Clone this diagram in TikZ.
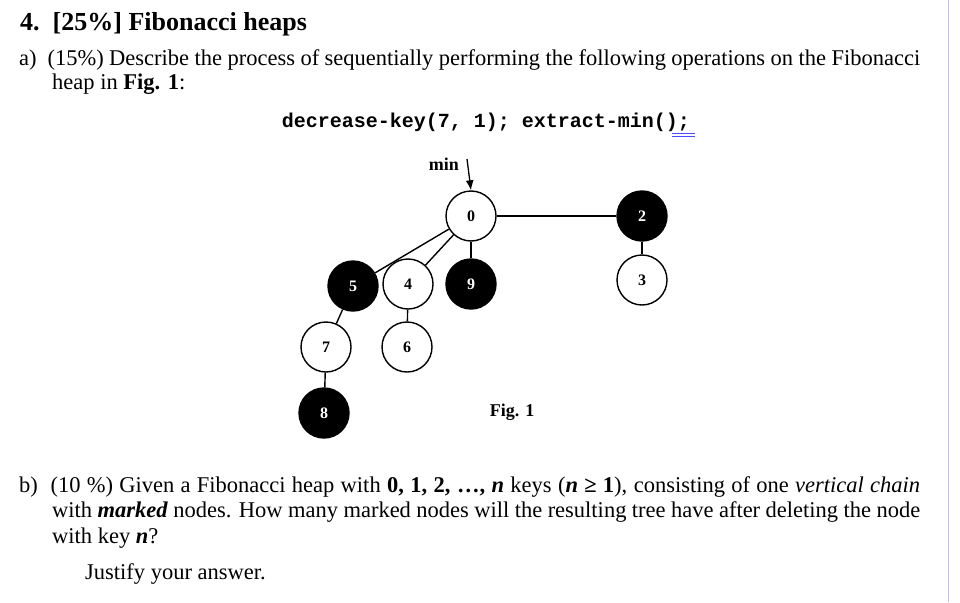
\documentclass[tikz,border=0pt]{standalone}
\usepackage{fontspec}
\setmainfont{Liberation Serif}
\setmonofont{Liberation Mono}
\usetikzlibrary{arrows.meta}
\begin{document}
\begin{tikzpicture}[x=1pt,y=-1pt,
  v/.style={circle,draw,line width=1.4pt,minimum size=50pt,inner sep=0pt,font=\fontsize{16}{16}\selectfont\bfseries},
  m/.style={v,fill=black,text=white},
  e/.style={line width=1.4pt},
  txt/.style={anchor=base west,inner sep=0pt,font=\fontsize{22.5}{25}\selectfont}]
\useasboundingbox (0,0) rectangle (960,602);
\fill[white] (0,0) rectangle (960,602);
\draw[blue!25,line width=0.8pt] (948,0) -- (948,602);
\node[anchor=base west,inner sep=0pt,font=\fontsize{26}{28}\selectfont\bfseries] (title) at (20,31) {4.\ \ [25\%] Fibonacci heaps};
\node[anchor=north west,inner sep=0pt,text width=868pt,align=justify,font=\fontsize{22.5}{24.5}\selectfont] (pa) at (52,49)
  {\leftskip=33pt\noindent\hspace*{-33pt}a)\ \ (15\%) Describe the process of sequentially performing the following operations on the Fibonacci heap in \textbf{Fig. 1}:};
\node[anchor=base,inner sep=0pt,font=\fontsize{20}{20}\selectfont\ttfamily\bfseries] (code) at (486,127) {decrease-key(7, 1); extract-min();};
\draw[blue!70,line width=0.8pt] (672,133) -- (695,133);
\draw[blue!70,line width=0.8pt] (672,136) -- (695,136);
\node[v] (n0) at (471,216) {0};
\node[m] (n2) at (642,216) {2};
\node[v] (n3) at (642,280) {3};
\node[m] (n5) at (353,286) {5};
\node[v] (n4) at (408,284) {4};
\node[m] (n9) at (471,284) {9};
\node[v] (n7) at (326,347) {7};
\node[v] (n6) at (407,347) {6};
\node[m] (n8) at (324,413) {8};
\draw[e] (n0) -- (n2);
\draw[e] (n0) -- (n5);
\draw[e] (n0) -- (n4);
\draw[e] (n0) -- (n9);
\draw[e] (n5) -- (n7);
\draw[e] (n4) -- (n6);
\draw[e] (n7) -- (n8);
\draw[e] (n2) -- (n3);
\node[anchor=base east,inner sep=0pt,font=\fontsize{18}{18}\selectfont\bfseries] (minl) at (459,170) {min};
\coordinate (ma) at (467,159);
\draw[line width=1.3pt,-{Latex[length=10pt,width=8pt]}] (ma) -- (n0.north);
\node[anchor=base,inner sep=0pt,font=\fontsize{18}{18}\selectfont\bfseries] (fig) at (512,416) {Fig. 1};
\node[anchor=north west,inner sep=0pt,text width=868pt,align=justify,font=\fontsize{22.5}{25.5}\selectfont] (pb) at (52,476)
  {\leftskip=33pt\noindent\hspace*{-33pt}b)\ \ (10 \%) Given a Fibonacci heap with \textbf{0, 1, 2, \dots, \textit{n}} keys (\textbf{\textit{n} ≥ 1}), consisting of one \textit{vertical chain} with \textbf{\textit{marked}} nodes. How many marked nodes will the resulting tree have after deleting the node with key \textbf{\textit{n}}?};
\node[txt] (just) at (85,579) {Justify your answer.};
\end{tikzpicture}
\end{document}
